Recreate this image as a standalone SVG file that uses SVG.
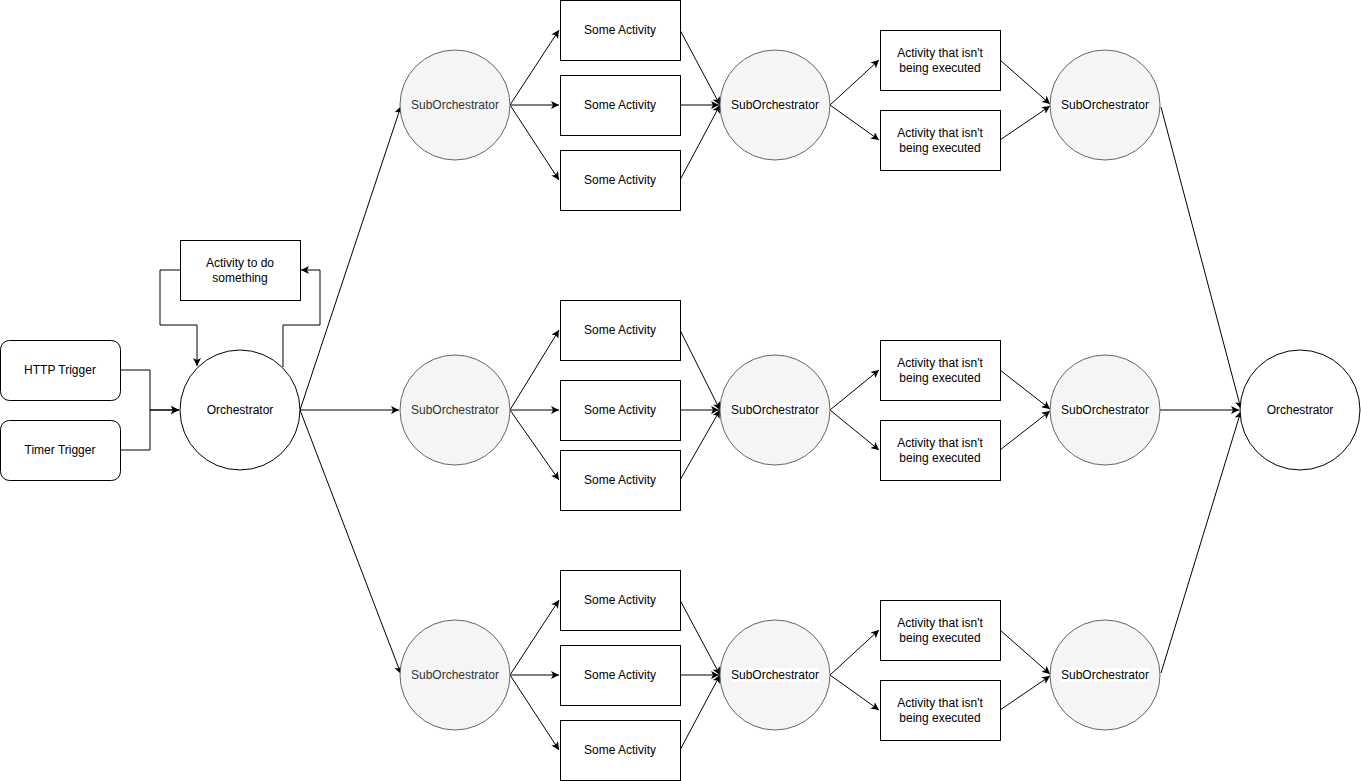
<svg xmlns="http://www.w3.org/2000/svg" width="1361" height="781" viewBox="0 0 1361 781">
<style>
text{font-family:"Liberation Sans",Arial,Helvetica,sans-serif;font-size:12px;text-anchor:middle;dominant-baseline:central;fill:#000}
.box{fill:#fff;stroke:#000;stroke-width:1}
.orch{fill:#fff;stroke:#000;stroke-width:1}
.sub{fill:#f5f5f5;stroke:#666;stroke-width:1}
.gray{fill:#333}
.bg{fill:#fff;stroke:none}
.edge{fill:none;stroke:#000;stroke-width:1;marker-end:url(#arr)}
</style>
<defs>
<marker id="arr" markerUnits="userSpaceOnUse" markerWidth="9" markerHeight="8" refX="8" refY="4" orient="auto" viewBox="0 0 9 8">
<path d="M0,0 L8,4 L0,8 L2,4 Z" fill="#000"/>
</marker>
</defs>
<rect width="1361" height="781" fill="#fff"/>
<g id="connectors">
<polyline class="edge" points="120,370 150,370 150,410 179,410"/>
<polyline class="edge" points="120,450 150,450 150,410 179,410"/>
<polyline class="edge" points="180,270 160,270 160,325 197,325 197,366"/>
<polyline class="edge" points="283,367 283,325 320,325 320,270 301,270"/>
<line class="edge" x1="300" y1="410" x2="401" y2="106"/>
<line class="edge" x1="300" y1="410" x2="399" y2="410"/>
<line class="edge" x1="300" y1="410" x2="401" y2="674"/>
<line class="edge" x1="510" y1="105" x2="559" y2="30"/>
<line class="edge" x1="510" y1="105" x2="559" y2="105"/>
<line class="edge" x1="510" y1="105" x2="559" y2="180"/>
<line class="edge" x1="680" y1="30" x2="720" y2="105"/>
<line class="edge" x1="680" y1="105" x2="719" y2="105"/>
<line class="edge" x1="680" y1="180" x2="720" y2="105"/>
<line class="edge" x1="830" y1="105" x2="879" y2="60"/>
<line class="edge" x1="830" y1="105" x2="879" y2="140"/>
<line class="edge" x1="1000" y1="60" x2="1050" y2="104"/>
<line class="edge" x1="1000" y1="140" x2="1050" y2="106"/>
<line class="edge" x1="510" y1="410" x2="559" y2="330"/>
<line class="edge" x1="510" y1="410" x2="559" y2="410"/>
<line class="edge" x1="510" y1="410" x2="559" y2="480"/>
<line class="edge" x1="680" y1="330" x2="720" y2="410"/>
<line class="edge" x1="680" y1="410" x2="719" y2="410"/>
<line class="edge" x1="680" y1="480" x2="720" y2="410"/>
<line class="edge" x1="830" y1="410" x2="879" y2="370"/>
<line class="edge" x1="830" y1="410" x2="879" y2="450"/>
<line class="edge" x1="1000" y1="370" x2="1050" y2="409"/>
<line class="edge" x1="1000" y1="450" x2="1050" y2="411"/>
<line class="edge" x1="510" y1="675" x2="559" y2="600"/>
<line class="edge" x1="510" y1="675" x2="559" y2="675"/>
<line class="edge" x1="510" y1="675" x2="559" y2="750"/>
<line class="edge" x1="680" y1="600" x2="720" y2="675"/>
<line class="edge" x1="680" y1="675" x2="719" y2="675"/>
<line class="edge" x1="680" y1="750" x2="720" y2="675"/>
<line class="edge" x1="830" y1="675" x2="879" y2="630"/>
<line class="edge" x1="830" y1="675" x2="879" y2="710"/>
<line class="edge" x1="1000" y1="630" x2="1050" y2="674"/>
<line class="edge" x1="1000" y1="710" x2="1050" y2="676"/>
<line class="edge" x1="1161" y1="107" x2="1241" y2="409"/>
<line class="edge" x1="1160" y1="410" x2="1239" y2="410"/>
<line class="edge" x1="1161" y1="673" x2="1241" y2="411"/>
</g>
<g id="http-trigger"><rect class="box" x="0.5" y="340.5" width="120" height="60" rx="9"/><text x="60" y="370">HTTP Trigger</text></g>
<g id="timer-trigger"><rect class="box" x="0.5" y="420.5" width="120" height="60" rx="9"/><text x="60" y="450">Timer Trigger</text></g>
<g id="activity-do-something"><rect class="box" x="180.5" y="240.5" width="120" height="60"/><text x="240" y="263">Activity to do</text><text x="240" y="278">something</text></g>
<g id="orchestrator"><circle class="orch" cx="240" cy="410" r="60"/><text x="240" y="410">Orchestrator</text></g>
<g id="sub-1a"><circle class="sub" cx="455" cy="105" r="55"/><text class="gray" x="455" y="105">SubOrchestrator</text></g>
<g id="sub-2a"><circle class="sub" cx="455" cy="410" r="55"/><text class="gray" x="455" y="410">SubOrchestrator</text></g>
<g id="sub-3a"><circle class="sub" cx="455" cy="675" r="55"/><text class="gray" x="455" y="675">SubOrchestrator</text></g>
<g id="act-1-1"><rect class="box" x="560.5" y="0.5" width="120" height="60"/><text x="620" y="30">Some Activity</text></g>
<g id="act-1-2"><rect class="box" x="560.5" y="75.5" width="120" height="60"/><text x="620" y="105">Some Activity</text></g>
<g id="act-1-3"><rect class="box" x="560.5" y="150.5" width="120" height="60"/><text x="620" y="180">Some Activity</text></g>
<g id="act-2-1"><rect class="box" x="560.5" y="300.5" width="120" height="60"/><text x="620" y="330">Some Activity</text></g>
<g id="act-2-2"><rect class="box" x="560.5" y="380.5" width="120" height="60"/><text x="620" y="410">Some Activity</text></g>
<g id="act-2-3"><rect class="box" x="560.5" y="450.5" width="120" height="60"/><text x="620" y="480">Some Activity</text></g>
<g id="act-3-1"><rect class="box" x="560.5" y="570.5" width="120" height="60"/><text x="620" y="600">Some Activity</text></g>
<g id="act-3-2"><rect class="box" x="560.5" y="645.5" width="120" height="60"/><text x="620" y="675">Some Activity</text></g>
<g id="act-3-3"><rect class="box" x="560.5" y="720.5" width="120" height="60"/><text x="620" y="750">Some Activity</text></g>
<g id="sub-1b"><circle class="sub" cx="775" cy="105" r="55"/><rect class="bg" x="731" y="98" width="88" height="14"/><text x="775" y="105">SubOrchestrator</text></g>
<g id="sub-2b"><circle class="sub" cx="775" cy="410" r="55"/><rect class="bg" x="731" y="403" width="88" height="14"/><text x="775" y="410">SubOrchestrator</text></g>
<g id="sub-3b"><circle class="sub" cx="775" cy="675" r="55"/><rect class="bg" x="731" y="668" width="88" height="14"/><text x="775" y="675">SubOrchestrator</text></g>
<g id="nx-1-1"><rect class="box" x="880.5" y="30.5" width="120" height="60"/><text x="940" y="53">Activity that isn't</text><text x="940" y="68">being executed</text></g>
<g id="nx-1-2"><rect class="box" x="880.5" y="110.5" width="120" height="60"/><text x="940" y="133">Activity that isn't</text><text x="940" y="148">being executed</text></g>
<g id="nx-2-1"><rect class="box" x="880.5" y="340.5" width="120" height="60"/><text x="940" y="363">Activity that isn't</text><text x="940" y="378">being executed</text></g>
<g id="nx-2-2"><rect class="box" x="880.5" y="420.5" width="120" height="60"/><text x="940" y="443">Activity that isn't</text><text x="940" y="458">being executed</text></g>
<g id="nx-3-1"><rect class="box" x="880.5" y="600.5" width="120" height="60"/><text x="940" y="623">Activity that isn't</text><text x="940" y="638">being executed</text></g>
<g id="nx-3-2"><rect class="box" x="880.5" y="680.5" width="120" height="60"/><text x="940" y="703">Activity that isn't</text><text x="940" y="718">being executed</text></g>
<g id="sub-1c"><circle class="sub" cx="1105" cy="105" r="55"/><rect class="bg" x="1061" y="98" width="88" height="14"/><text x="1105" y="105">SubOrchestrator</text></g>
<g id="sub-2c"><circle class="sub" cx="1105" cy="410" r="55"/><rect class="bg" x="1061" y="403" width="88" height="14"/><text x="1105" y="410">SubOrchestrator</text></g>
<g id="sub-3c"><circle class="sub" cx="1105" cy="675" r="55"/><rect class="bg" x="1061" y="668" width="88" height="14"/><text x="1105" y="675">SubOrchestrator</text></g>
<g id="orchestrator-final"><circle class="orch" cx="1300" cy="410" r="60"/><text x="1300" y="410">Orchestrator</text></g>
</svg>
